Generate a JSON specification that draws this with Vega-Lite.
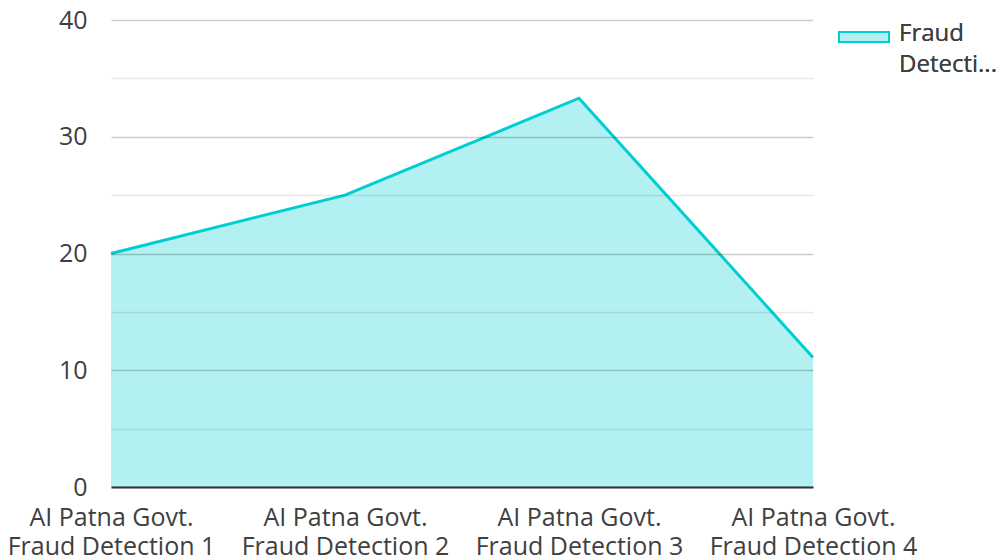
{
  "$schema": "https://vega.github.io/schema/vega-lite/v6.json",
  "autosize": "none",
  "width": 702,
  "height": 467,
  "padding": {"left": 111, "top": 20, "right": 187, "bottom": 73},
  "background": "white",
  "config": {
    "font": "Open Sans",
    "view": {"stroke": null},
    "style": {"guide-label": {"lineHeight": 31}}
  },
  "data": {
    "values": [
      {"category": "AI Patna Govt. Fraud Detection 1", "series": "Fraud Detection", "value": 20},
      {"category": "AI Patna Govt. Fraud Detection 2", "series": "Fraud Detection", "value": 25},
      {"category": "AI Patna Govt. Fraud Detection 3", "series": "Fraud Detection", "value": 33.3},
      {"category": "AI Patna Govt. Fraud Detection 4", "series": "Fraud Detection", "value": 11.1}
    ]
  },
  "encoding": {
    "x": {
      "field": "category",
      "type": "ordinal",
      "scale": {"type": "point", "padding": 0},
      "axis": {
        "title": null,
        "labelAngle": 0,
        "labelExpr": "[slice(datum.label, 0, 14), slice(datum.label, 15)]",
        "labelFontSize": 25,
        "labelLimit": 400,
        "labelColor": "#404040",
        "labelPadding": 18,
        "labelLineHeight": 29,
        "labelBaseline": "top",
        "ticks": false,
        "domainColor": "#333333",
        "domainWidth": 2,
        "grid": false,
        "zindex": 2
      }
    },
    "y": {
      "field": "value",
      "type": "quantitative",
      "scale": {"domain": [0, 40], "nice": false},
      "axis": {
        "title": null,
        "values": [0, 5, 10, 15, 20, 25, 30, 35, 40],
        "labelExpr": "datum.value % 10 === 0 ? datum.label : ''",
        "labelFontSize": 25,
        "labelColor": "#404040",
        "labelPadding": 24,
        "ticks": false,
        "domain": false,
        "grid": true,
        "gridColor": "black",
        "gridOpacity": {"condition": {"test": "datum.value % 10 === 0", "value": 0.2}, "value": 0.09},
        "gridWidth": 1.5,
        "zindex": 1
      }
    }
  },
  "layer": [
    {
      "mark": {"type": "area"},
      "encoding": {
        "fill": {
          "field": "series",
          "type": "nominal",
          "scale": {"range": ["#b2f0f1"]},
          "legend": {
            "title": null,
            "orient": "none",
            "legendX": 727,
            "legendY": -24,
            "symbolType": "M-1,0.4H1V0.8H-1Z",
            "symbolSize": 2500,
            "symbolStrokeWidth": 2,
            "symbolOpacity": 1,
            "labelFontSize": 24,
            "labelLimit": 200,
            "labelColor": "#404040",
            "labelExpr": "['Fraud', 'Detecti...']",
            "labelBaseline": "top",
            "labelOffset": 9
          }
        }
      }
    },
    {
      "mark": {"type": "line", "strokeWidth": 3},
      "encoding": {
        "stroke": {
          "field": "series",
          "type": "nominal",
          "scale": {"range": ["#00CED1"]},
          "legend": {
            "title": null,
            "orient": "none",
            "legendX": 727,
            "legendY": -24,
            "symbolType": "M-1,0.4H1V0.8H-1Z",
            "symbolSize": 2500,
            "symbolStrokeWidth": 2,
            "symbolOpacity": 1,
            "labelFontSize": 24,
            "labelLimit": 200,
            "labelColor": "#404040",
            "labelExpr": "['Fraud', 'Detecti...']",
            "labelBaseline": "top",
            "labelOffset": 9
          }
        }
      }
    }
  ]
}
